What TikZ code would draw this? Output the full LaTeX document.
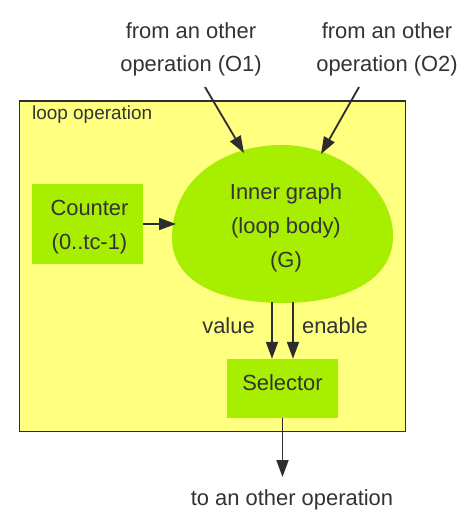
\documentclass[tikz,border=0pt]{standalone}
\usepackage{fontspec}
\setmainfont{Liberation Sans}
\usetikzlibrary{arrows.meta}
\definecolor{boxyellow}{RGB}{255,255,128}
\definecolor{limegreen}{RGB}{168,238,0}
\definecolor{ink}{RGB}{51,51,51}
\definecolor{lineink}{RGB}{45,45,45}
\begin{document}
\begin{tikzpicture}[x=1bp,y=-1bp,
  lbl/.style={font=\fontsize{22}{34}\selectfont, text=ink, align=center, inner sep=0pt},
  arr/.style={draw=lineink, line width=1.8bp, -{Triangle[length=17bp,width=12bp]}},
  gbox/.style={fill=limegreen, draw=none, inner sep=0pt}]
\useasboundingbox (0,0) rectangle (474,511);
\fill[white] (0,0) rectangle (474,511);
% outer loop box
\node[draw=lineink, fill=boxyellow, line width=1.3bp, minimum width=386bp, minimum height=330bp,
      anchor=north west, inner sep=0pt] (box) at (19,100.5) {};
\node[font=\fontsize{19}{23}\selectfont, text=ink, inner sep=0pt, anchor=base west] (looplbl) at (32,119.5) {loop operation};
% top labels
\node[lbl] (O1) at (191,49.3) {from an other\\operation (O1)};
\node[lbl] (O2) at (387,49.3) {from an other\\operation (O2)};
% counter
\node[gbox, minimum width=111bp, minimum height=80bp,
      label={[lbl, xshift=2bp, yshift=-3bp]center:{Counter\\(0..tc-1)}}] (counter) at (87.5,224) {};
% inner graph blob
\fill[limegreen] (172,238) .. controls (172,180) and (222,145) .. (282,145)
  .. controls (340,145) and (393,188) .. (393,236)
  .. controls (393,282) and (342,303) .. (283,303)
  .. controls (224,303) and (172,284) .. (172,238) -- cycle;
\node[lbl] (G) at (286,227.5) {Inner graph\\(loop body)\\(G)};
\coordinate (Gt1) at (244,153);
\coordinate (Gt2) at (321,154);
\coordinate (Gl) at (176,224);
\coordinate (Gb1) at (272,302);
\coordinate (Gb2) at (293,302);
% selector
\node[gbox, lbl, minimum width=111bp, minimum height=59bp, text height=16bp, text depth=12bp] (selector) at (282.5,388.5) {Selector};
% output label
\node[lbl, anchor=base] (outlbl) at (292,505) {to an other operation};
\coordinate (outend) at (282.5,477);
% edge labels
\node[lbl, anchor=base] (vlbl) at (228.5,333) {value};
\node[lbl, anchor=base] (elbl) at (335,333) {enable};
% connectors
\draw[arr] ([xshift=14bp,yshift=-10.4bp]O1.south) -- (Gt1);
\draw[arr] ([xshift=-28bp,yshift=-10.4bp]O2.south) -- (Gt2);
\draw[arr] (counter.east) -- (Gl);
\draw[arr] (Gb1) -- (Gb1 |- selector.north);
\draw[arr] (Gb2) -- (Gb2 |- selector.north);
\draw[arr] (selector.south) -- (outend);
\end{tikzpicture}
\end{document}
